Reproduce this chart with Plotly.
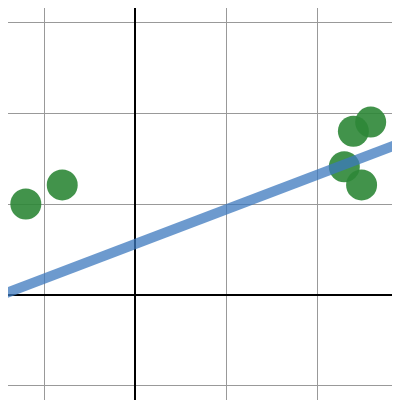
import plotly.graph_objects as go

pts_x = [-1.2, -0.8, 2.3, 2.4, 2.59, 2.49]
pts_y = [1.0, 1.21, 1.41, 1.80, 1.90, 1.21]
line_x = [-1.6, 3.2]
slope = 0.38
intercept = 0.56
line_y = [slope * v + intercept for v in line_x]

fig = go.Figure()
fig.add_trace(go.Scatter(x=pts_x, y=pts_y, mode='markers',
  marker=dict(size=31, color='rgba(45,135,55,0.9)', line=dict(width=0))))
fig.add_trace(go.Scatter(x=line_x, y=line_y, mode='lines',
  line=dict(color='rgba(60,120,190,0.75)', width=10)))

# page body has an 8px margin, so ranges are shifted to compensate
fig.update_layout(width=400, height=400, margin=dict(l=0, r=0, t=0, b=0),
  plot_bgcolor='white', paper_bgcolor='white', showlegend=False)
fig.update_xaxes(range=[-1.396, 3.0], dtick=1, tick0=0, showgrid=True,
  gridcolor='#999999', gridwidth=1, zeroline=True, zerolinecolor='black',
  zerolinewidth=2, showticklabels=False)
fig.update_yaxes(range=[-1.242, 3.154], dtick=1, tick0=0, showgrid=True,
  gridcolor='#999999', gridwidth=1, zeroline=True, zerolinecolor='black',
  zerolinewidth=2, showticklabels=False)
fig.write_html("out.html")
